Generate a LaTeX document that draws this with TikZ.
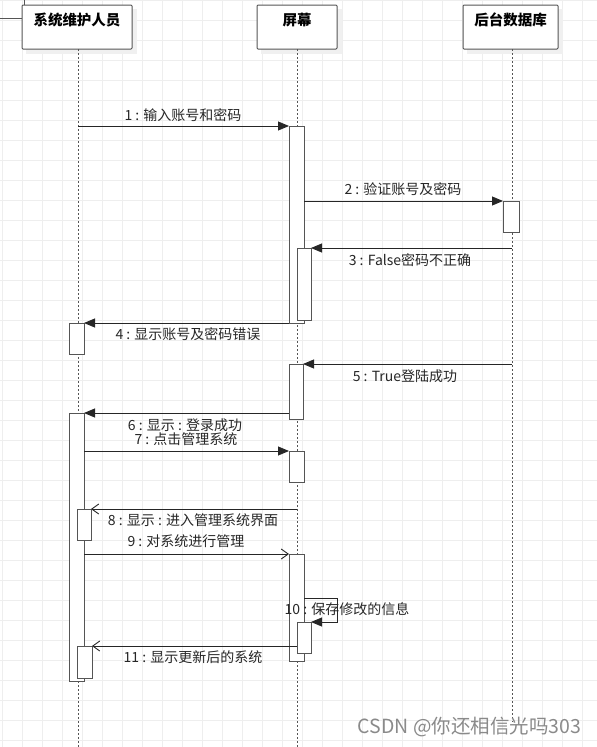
\documentclass[tikz,border=0pt]{standalone}
\usepackage{fontspec}
\setmainfont{Noto Sans CJK SC}
\usetikzlibrary{arrows.meta}
\definecolor{gridc}{HTML}{EEEEEE}
\definecolor{edge}{HTML}{555555}
\definecolor{wm}{HTML}{8A8A8A}
\tikzset{
  hdr/.style={draw=edge, line width=1pt, fill=white, rounded corners=1pt, minimum width=#1, minimum height=44pt, anchor=north west, inner sep=0pt, outer sep=0pt},
  hdrtext/.style={font=\bfseries\fontsize{14.5}{16}\selectfont, anchor=center},
  lifeline/.style={draw=edge, line width=1pt, dash pattern=on 2pt off 2pt},
  act/.style={draw=edge, line width=1pt, fill=white, inner sep=0pt, outer sep=0pt, anchor=north west, minimum width=#1},
  msgF/.style={draw=black!85, line width=0.9pt, -{Triangle[length=11pt,width=9pt]}},
  msgO/.style={draw=black!85, line width=0.9pt, -{Straight Barb[length=7pt,width=10pt,line width=0.9pt]}},
  lbl/.style={font=\fontsize{14}{16}\selectfont, text=black!85, inner sep=0pt, anchor=center},
}
\begin{document}
\begin{tikzpicture}[x=1pt,y=-1pt]
\useasboundingbox (0,0) rectangle (597,747);
% grid
\foreach \gx in {2.7,22.7,...,600} \draw[gridc, line width=1pt] (\gx,0) -- (\gx,747);
\foreach \gy in {0.5,20.5,...,750} \draw[gridc, line width=1pt] (0,\gy) -- (597,\gy);
% partial frame at top left
\draw[edge, line width=1pt] (24,0) -- (24,5);
\draw[edge, line width=1pt] (0,18) -- (22,18);
% header shadows
\fill[black!6] (26,9) rectangle (137,54);
\fill[black!6] (261,9) rectangle (342,54);
\fill[black!6] (467,9) rectangle (563,54);
% headers
\node[hdr=110pt] (h1) at (22,5) {};
\node[hdr=80pt] (h2) at (257,5) {};
\node[hdr=95pt] (h3) at (463,5) {};
\node[hdrtext] (t1) at (77,20) {系统维护人员};
\node[hdrtext] (t2) at (297,20) {屏幕};
\node[hdrtext] (t3) at (510.5,20) {后台数据库};
% lifelines
\coordinate (l1e) at (78,747);
\coordinate (l2e) at (297,747);
\coordinate (l3e) at (512,722);
\draw[lifeline] (h1.south -| l1e) -- (l1e);
\draw[lifeline] (h2.south -| l2e) -- (l2e);
\draw[lifeline] (h3.south -| l3e) -- (l3e);
% activations
\node[act=15pt, minimum height=197pt] (A) at (289,126) {};
\node[act=14pt, minimum height=72pt] (B) at (297,248) {};
\node[act=16pt, minimum height=31pt] (DB) at (503,201) {};
\node[act=15pt, minimum height=31pt] (C) at (69,323) {};
\node[act=14pt, minimum height=55pt] (D) at (289,364) {};
\node[act=15pt, minimum height=268pt] (E) at (69,413) {};
\node[act=15pt, minimum height=31pt] (F) at (289,451) {};
\node[act=14pt, minimum height=31pt] (G) at (77,509) {};
\node[act=15pt, minimum height=107pt] (H) at (289,554) {};
\node[act=14pt, minimum height=31pt] (I) at (297,622) {};
\node[act=15pt, minimum height=32pt] (J) at (77,646) {};
% message endpoints
\coordinate (m1s) at (78,126);
\coordinate (m3s) at (512,248);
\coordinate (m5s) at (512,364);
\coordinate (m8s) at (297,509);
\coordinate (m10a) at (337,598);
\coordinate (m10b) at (337,622);
% messages
\draw[msgF] (m1s) -- (A.north west);
\draw[msgF] (A.east |- DB.north) -- (DB.north west);
\draw[msgF] (m3s) -- (B.north east);
\draw[msgF] (A.south west) -- (C.north east);
\draw[msgF] (m5s) -- (D.north east);
\draw[msgF] (D.west |- E.north) -- (E.north east);
\draw[msgF] (E.east |- F.north) -- (F.north west);
\draw[msgO] (m8s) -- (G.north east);
\draw[msgO] (E.east |- H.north) -- (H.north west);
\draw[msgF] (H.east |- m10a) -- (m10a) -- (m10b) -- (I.north east);
\draw[msgO] (I.west |- J.north) -- (J.north east);
% labels
\node[lbl] (n1) at (183,115) {1 : 输入账号和密码};
\node[lbl] (n2) at (403,189) {2 : 验证账号及密码};
\node[lbl] (n3) at (410,260) {3 : False密码不正确};
\node[lbl] (n4) at (188,334) {4 : 显示账号及密码错误};
\node[lbl] (n5) at (405,376) {5 : True登陆成功};
\node[lbl] (n6) at (185,425) {6 : 显示 : 登录成功};
\node[lbl] (n7) at (186,439) {7 : 点击管理系统};
\node[lbl] (n8) at (193,520) {8 : 显示 : 进入管理系统界面};
\node[lbl] (n9) at (186,541) {9 : 对系统进行管理};
\node[lbl] (n10) at (347,609) {10 : 保存修改的信息};
\node[lbl] (n11) at (193,657) {11 : 显示更新后的系统};
% watermark
\node[font=\fontsize{19.5}{21}\selectfont, text=wm, inner sep=0pt, anchor=center] (wmk) at (469.5,727) {CSDN @你还相信光吗303};
\end{tikzpicture}
\end{document}
